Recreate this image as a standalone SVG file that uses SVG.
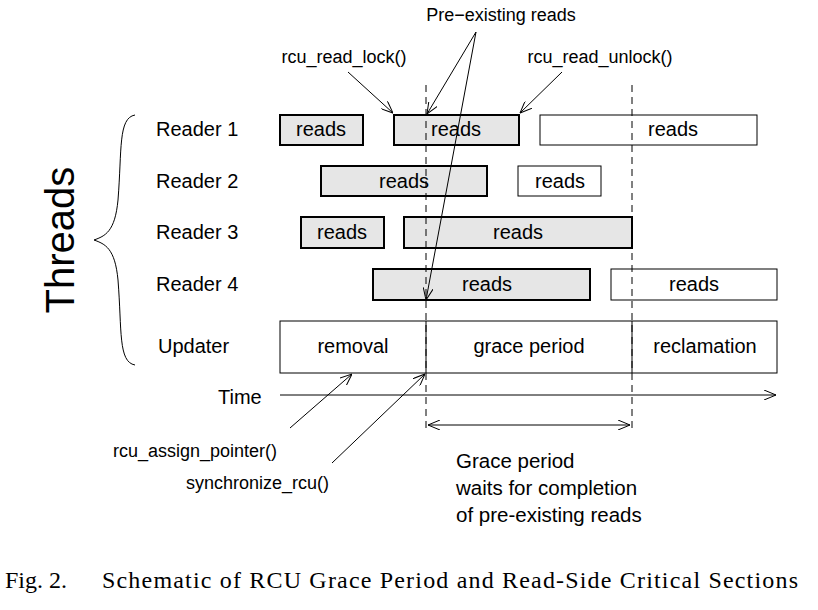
<svg xmlns="http://www.w3.org/2000/svg" width="818" height="610" viewBox="0 0 818 610">
<defs>
<marker id="a" viewBox="0 0 12 10" refX="12" refY="5" markerWidth="12" markerHeight="10" markerUnits="userSpaceOnUse" orient="auto-start-reverse"><path d="M0,0 L12,5 L0,10" fill="none" stroke="#000" stroke-width="1"/></marker>
<style>
text{font-family:"Liberation Sans",Arial,sans-serif;font-size:20px;fill:#000}
.g{fill:#e6e6e6;stroke:#000;stroke-width:2}
.w{fill:#fff;stroke:#000;stroke-width:1}
.l{stroke:#000;stroke-width:1;fill:none}
.d{stroke:#000;stroke-width:1;stroke-dasharray:7,5;fill:none}
.s{font-size:18px}
.m{text-anchor:middle}
.c{font-family:"Liberation Serif","Times New Roman",serif;font-size:24px}
</style>
</defs>
<rect width="818" height="610" fill="#fff"/>
<g id="labels">
<text x="156" y="136">Reader 1</text>
<text x="156" y="188">Reader 2</text>
<text x="156" y="239">Reader 3</text>
<text x="156" y="291">Reader 4</text>
<text x="158" y="353">Updater</text>
<text x="218" y="404">Time</text>
<text transform="translate(74,240) rotate(-90)" class="m" style="font-size:40px">Threads</text>
<path class="l" d="M135,115 C118,118 122,150 118,200 C115,232 105,236 94,240 C105,244 115,248 118,280 C122,330 118,362 135,365" stroke-width="1.5"/>
</g>
<g id="r1"><rect class="g" x="280" y="115" width="83" height="30"/><text class="m" x="321" y="136">reads</text>
<rect class="g" x="394" y="115" width="125" height="30"/><text class="m" x="456" y="136">reads</text>
<rect class="w" x="540" y="115" width="217" height="30"/><text class="m" x="673" y="136">reads</text></g>
<g id="r2"><rect class="g" x="321" y="166" width="166" height="30"/><text class="m" x="404" y="188">reads</text>
<rect class="w" x="518" y="166" width="83" height="30"/><text class="m" x="560" y="188">reads</text></g>
<g id="r3"><rect class="g" x="301" y="217" width="83" height="31"/><text class="m" x="342" y="239">reads</text>
<rect class="g" x="404" y="217" width="228" height="31"/><text class="m" x="518" y="239">reads</text></g>
<g id="r4"><rect class="g" x="373" y="269" width="217" height="31"/><text class="m" x="487" y="291">reads</text>
<rect class="w" x="611" y="269" width="166" height="31"/><text class="m" x="694" y="291">reads</text></g>
<g id="updater"><rect class="w" x="280" y="321" width="497" height="52"/>
<line class="l" x1="426" y1="321" x2="426" y2="373"/><line class="l" x1="632" y1="321" x2="632" y2="373"/>
<text class="m" x="353" y="353">removal</text><text class="m" x="529" y="353">grace period</text><text class="m" x="705" y="353">reclamation</text></g>
<g id="notes">
<text class="s m" x="501" y="21">Pre−existing reads</text>
<text class="s m" x="344" y="63">rcu_read_lock()</text>
<text class="s m" x="600" y="63">rcu_read_unlock()</text>
<text class="s" x="113" y="457">rcu_assign_pointer()</text>
<text class="s" x="186" y="489">synchronize_rcu()</text>
<text x="456" y="468" style="font-size:20.5px">Grace period</text>
<text x="456" y="495" style="font-size:20.5px">waits for completion</text>
<text x="456" y="522" style="font-size:20.5px">of pre-existing reads</text>
<text class="c" x="5" y="588">Fig. 2.</text>
<text class="c" x="102" y="588" textLength="696" lengthAdjust="spacing">Schematic of RCU Grace Period and Read-Side Critical Sections</text>
</g>
<g id="connectors">
<line class="d" x1="426" y1="85" x2="426" y2="428"/>
<line class="d" x1="632" y1="85" x2="632" y2="428"/>
<line class="l" x1="280" y1="395" x2="776" y2="395" marker-end="url(#a)"/>
<line class="l" x1="428" y1="425" x2="630" y2="425" marker-start="url(#a)" marker-end="url(#a)"/>
<line class="l" x1="476" y1="32" x2="427" y2="114" marker-end="url(#a)"/>
<line class="l" x1="476" y1="32" x2="426" y2="300" marker-end="url(#a)"/>
<line class="l" x1="348" y1="72" x2="393" y2="113" marker-end="url(#a)"/>
<line class="l" x1="562" y1="72" x2="520" y2="113" marker-end="url(#a)"/>
<line class="l" x1="290" y1="428" x2="352" y2="374" marker-end="url(#a)"/>
<line class="l" x1="332" y1="463" x2="425" y2="374" marker-end="url(#a)"/>
</g>
</svg>
